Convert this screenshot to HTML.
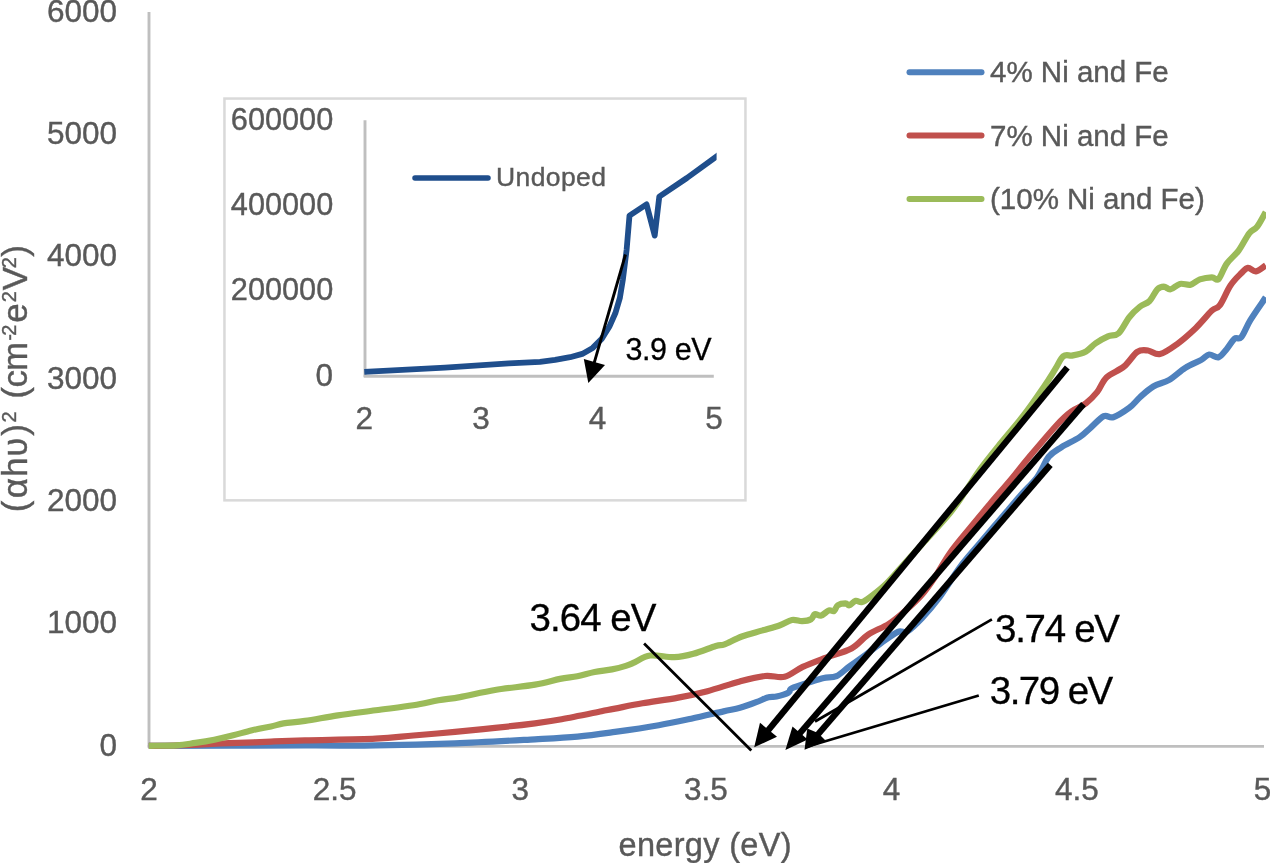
<!DOCTYPE html>
<html><head><meta charset="utf-8"><style>
html,body{margin:0;padding:0;background:#fff;}
svg{display:block;will-change:transform;}
text{font-family:"Liberation Sans", sans-serif;}
.tg text{stroke:#595959;stroke-width:0.4;}
.tb text{stroke:#000;stroke-width:0.3;}
</style></head><body>
<svg width="1270" height="863" viewBox="0 0 1270 863">
<defs>
<clipPath id="cp"><rect x="146" y="0" width="1120" height="750"/></clipPath>
<clipPath id="icp"><rect x="364" y="110" width="352.6" height="270"/></clipPath>
</defs>
<rect width="1270" height="863" fill="#fff"/>
<!-- axes -->
<line x1="149" y1="12" x2="149" y2="747.5" stroke="#bfbfbf" stroke-width="2.9"/>
<line x1="147.7" y1="746.4" x2="1264" y2="746.4" stroke="#bfbfbf" stroke-width="2.9"/>
<g class="tg" font-size="31.5" fill="#595959"><text x="117" y="755.8" text-anchor="end">0</text><text x="117" y="633.4" text-anchor="end">1000</text><text x="117" y="511.1" text-anchor="end">2000</text><text x="117" y="388.7" text-anchor="end">3000</text><text x="117" y="266.4" text-anchor="end">4000</text><text x="117" y="144.0" text-anchor="end">5000</text><text x="117" y="21.6" text-anchor="end">6000</text><text x="149.0" y="800" text-anchor="middle">2</text><text x="334.6" y="800" text-anchor="middle">2.5</text><text x="520.2" y="800" text-anchor="middle">3</text><text x="705.8" y="800" text-anchor="middle">3.5</text><text x="891.4" y="800" text-anchor="middle">4</text><text x="1077.0" y="800" text-anchor="middle">4.5</text><text x="1262.6" y="800" text-anchor="middle">5</text>
<text x="618.5" y="856" font-size="32.5" textLength="173" lengthAdjust="spacing">energy (eV)</text>
</g>
<!-- y title -->
<g class="tg" transform="translate(27.2,0) rotate(-90)" fill="#595959" text-anchor="middle"><text x="-506.3" y="0" font-size="35">(</text><text x="-488.1" y="0" font-size="35">α</text><text x="-467.2" y="0" font-size="35">h</text><text x="-447.0" y="0" font-size="35">ʋ</text><text x="-429.8" y="0" font-size="35">)</text><text x="-416.9" y="-11.6" font-size="20">2</text><text x="-392.8" y="0" font-size="35">(</text><text x="-378.7" y="0" font-size="35">c</text><text x="-356.4" y="0" font-size="35">m</text><text x="-337.5" y="-11.6" font-size="20">-</text><text x="-330.3" y="-11.6" font-size="20">2</text><text x="-313.0" y="0" font-size="35">e</text><text x="-296.8" y="-11.6" font-size="20">2</text><text x="-278.6" y="0" font-size="35">V</text><text x="-262.6" y="-11.6" font-size="20">2</text><text x="-250.8" y="0" font-size="35">)</text></g>
<!-- legend -->
<g stroke-width="6" stroke-linecap="round">
<line x1="909.5" y1="72.3" x2="981.5" y2="72.3" stroke="#4f81bd"/>
<line x1="909.5" y1="135.6" x2="981.5" y2="135.6" stroke="#c0504d"/>
<line x1="909.5" y1="199" x2="981.5" y2="199" stroke="#9bbb59"/>
</g>
<g class="tg" font-size="29.5" fill="#595959">
<text x="990" y="82.4">4% Ni and Fe</text>
<text x="990" y="145.6">7% Ni and Fe</text>
<text x="990" y="209">(10% Ni and Fe)</text>
</g>
<!-- curves -->
<g clip-path="url(#cp)" fill="none" stroke-width="6.2" stroke-linejoin="round">
<path d="M148.8,745.8 C174.8,745.8 267.2,745.6 305.0,745.5 C342.8,745.4 350.6,745.8 375.6,745.4 C400.6,745.0 428.4,744.3 455.0,743.3 C481.6,742.3 514.6,740.4 535.0,739.3 C555.4,738.2 564.3,737.8 577.6,736.6 C590.9,735.4 601.5,733.8 615.0,731.9 C628.5,730.0 646.0,727.4 658.7,725.2 C671.4,723.0 680.4,721.0 691.2,718.7 C702.0,716.4 715.5,713.2 723.6,711.4 C731.7,709.6 734.6,709.3 740.0,707.8 C745.4,706.3 751.5,704.0 756.2,702.2 C760.9,700.5 765.0,698.2 768.4,697.3 C771.8,696.3 773.1,697.3 776.5,696.5 C779.9,695.7 786.1,693.8 788.7,692.4 C791.3,691.0 788.2,690.0 791.9,688.2 C795.6,686.4 805.7,683.5 811.0,681.8 C816.3,680.1 819.5,679.0 823.8,678.0 C828.0,677.0 832.2,678.0 836.5,676.1 C840.8,674.2 845.0,669.6 849.3,666.5 C853.5,663.4 856.7,661.5 862.0,657.6 C867.3,653.7 875.2,647.3 881.2,643.0 C887.2,638.7 893.6,633.7 897.9,631.8 C902.2,629.9 903.2,633.8 907.2,631.5 C911.2,629.2 916.7,623.6 922.0,618.0 C927.3,612.4 932.7,606.5 939.0,598.0 C945.3,589.5 953.2,576.2 960.0,567.0 C966.8,557.8 973.3,550.9 980.0,543.0 C986.7,535.1 993.3,527.3 1000.0,519.5 C1006.7,511.7 1013.8,503.1 1020.0,496.0 C1026.2,488.9 1032.5,483.5 1037.3,477.0 C1042.1,470.5 1044.7,461.8 1048.7,456.8 C1052.8,451.8 1056.5,450.4 1061.6,447.1 C1066.7,443.9 1074.6,440.6 1079.5,437.3 C1084.4,434.1 1086.8,431.1 1090.8,427.6 C1094.8,424.1 1100.0,417.9 1103.8,416.2 C1107.5,414.5 1109.0,418.6 1113.3,417.2 C1117.5,415.8 1124.8,411.1 1129.3,407.8 C1133.8,404.5 1136.0,400.8 1140.0,397.2 C1144.0,393.6 1148.4,389.4 1153.3,386.5 C1158.2,383.6 1164.0,383.0 1169.3,379.9 C1174.6,376.8 1180.0,371.2 1185.3,367.9 C1190.6,364.6 1197.3,362.1 1201.3,359.9 C1205.3,357.7 1206.3,354.9 1209.2,354.5 C1212.1,354.1 1215.7,358.1 1218.6,357.2 C1221.5,356.3 1223.9,352.3 1226.6,349.2 C1229.3,346.1 1232.2,340.6 1234.6,338.6 C1237.0,336.6 1238.5,340.3 1241.2,337.2 C1243.9,334.1 1246.4,326.5 1250.5,319.9 C1254.6,313.2 1263.2,301.1 1265.7,297.3" stroke="#4f81bd"/>
<path d="M148.8,745.8 C153.3,745.8 164.0,745.9 176.0,745.5 C188.0,745.1 209.0,744.0 220.6,743.5 C232.2,743.0 237.4,742.9 245.8,742.6 C254.2,742.3 261.1,742.0 271.0,741.6 C280.9,741.2 287.6,740.9 305.0,740.4 C322.4,739.9 357.5,739.5 375.6,738.7 C393.7,737.9 400.2,736.6 413.4,735.5 C426.6,734.4 441.4,733.2 455.0,731.9 C468.6,730.6 481.7,729.3 495.0,727.9 C508.3,726.5 523.9,724.7 535.0,723.3 C546.1,721.9 550.5,721.3 561.6,719.3 C572.7,717.3 592.6,713.1 601.5,711.3 C610.4,709.5 608.2,709.9 615.0,708.6 C621.8,707.3 632.0,705.1 642.5,703.3 C653.0,701.5 667.4,699.6 678.2,697.6 C689.0,695.6 697.1,693.9 707.4,691.2 C717.7,688.5 730.3,683.9 739.9,681.4 C749.5,678.9 757.5,676.8 765.0,676.0 C772.5,675.2 778.3,678.2 784.6,676.7 C790.9,675.2 795.9,670.0 802.7,666.9 C809.5,663.8 817.1,661.0 825.2,657.9 C833.3,654.8 844.3,652.4 851.5,648.5 C858.7,644.6 862.0,638.7 868.2,634.6 C874.4,630.5 882.5,627.9 888.6,624.0 C894.7,620.1 899.5,615.8 905.0,611.0 C910.5,606.2 916.7,600.7 921.7,595.0 C926.7,589.3 930.3,584.0 935.0,577.0 C939.7,570.0 944.2,561.2 950.0,553.0 C955.8,544.8 963.3,536.2 970.0,528.0 C976.7,519.8 983.1,512.2 990.0,504.0 C996.9,495.8 1004.9,486.8 1011.4,479.0 C1017.9,471.2 1021.6,466.0 1029.2,457.0 C1036.8,448.0 1049.8,432.6 1056.8,425.0 C1063.8,417.4 1066.5,415.1 1071.4,411.5 C1076.3,407.9 1081.7,406.6 1086.0,403.3 C1090.3,400.0 1093.8,396.2 1097.3,391.9 C1100.8,387.5 1102.2,381.4 1106.7,377.2 C1111.2,373.0 1118.9,370.7 1124.0,366.5 C1129.1,362.3 1133.3,354.6 1137.3,351.9 C1141.3,349.2 1144.2,350.1 1148.0,350.5 C1151.8,350.9 1155.1,355.1 1160.0,354.0 C1164.9,352.9 1171.3,348.2 1177.3,343.9 C1183.3,339.5 1190.1,333.4 1195.9,327.9 C1201.7,322.3 1207.9,314.4 1211.9,310.6 C1215.9,306.8 1216.8,309.4 1219.9,305.2 C1223.0,301.0 1227.0,290.6 1230.6,285.3 C1234.1,280.0 1238.3,276.2 1241.2,273.3 C1244.1,270.4 1245.5,268.2 1247.9,267.9 C1250.4,267.6 1252.9,271.8 1255.9,271.4 C1258.9,271.0 1264.1,266.3 1265.7,265.3" stroke="#c0504d"/>
<path d="M148.8,745.8 C153.4,745.7 168.7,745.9 176.5,745.4 C184.3,744.9 189.1,743.8 195.4,742.9 C201.7,742.0 208.0,741.0 214.3,739.7 C220.6,738.4 226.9,736.9 233.2,735.3 C239.5,733.7 245.8,731.8 252.1,730.3 C258.4,728.8 265.8,727.6 271.0,726.5 C276.2,725.4 277.8,724.3 283.5,723.4 C289.2,722.5 295.9,722.2 305.0,720.9 C314.1,719.6 326.0,717.2 337.8,715.4 C349.6,713.6 363.0,712.0 375.6,710.3 C388.2,708.6 402.9,707.0 413.4,705.3 C423.9,703.6 430.7,701.7 438.5,700.3 C446.3,698.9 450.6,698.8 460.0,697.1 C469.4,695.4 482.5,692.1 495.0,690.0 C507.5,687.9 524.2,686.5 535.0,684.6 C545.8,682.8 553.0,680.3 560.0,678.9 C567.0,677.5 571.5,677.4 577.3,676.3 C583.1,675.1 588.8,673.1 594.6,672.0 C600.4,670.9 606.8,670.4 612.0,669.4 C617.2,668.4 622.0,667.1 625.8,665.9 C629.5,664.7 630.5,664.1 634.5,662.4 C638.5,660.7 643.5,656.4 650.1,655.5 C656.7,654.6 667.1,657.5 674.3,657.2 C681.5,656.9 686.5,655.7 693.4,653.8 C700.3,651.9 710.7,647.6 715.9,646.0 C721.1,644.4 720.3,645.9 724.6,644.3 C728.9,642.7 735.5,638.8 741.9,636.5 C748.2,634.2 756.4,632.3 762.7,630.4 C769.1,628.5 775.1,626.9 780.0,625.2 C784.9,623.5 788.2,620.7 791.9,620.0 C795.6,619.3 798.9,621.3 802.1,621.2 C805.3,621.1 808.9,620.5 811.0,619.3 C813.1,618.1 813.1,614.8 814.8,614.2 C816.5,613.6 818.9,616.1 821.2,615.5 C823.6,614.9 826.8,611.1 828.9,610.4 C831.0,609.6 832.5,611.9 834.0,611.0 C835.5,610.1 835.9,606.6 837.8,605.3 C839.7,604.0 843.6,603.4 845.5,603.4 C847.4,603.4 847.6,605.7 849.3,605.3 C851.0,604.9 853.6,601.3 855.7,600.8 C857.8,600.3 859.5,602.8 862.0,602.1 C864.5,601.4 867.0,599.4 871.0,596.4 C875.0,593.4 880.3,589.6 886.0,584.0 C891.7,578.4 898.5,570.2 905.0,563.0 C911.5,555.8 917.5,549.3 925.0,541.0 C932.5,532.7 943.3,521.2 950.0,513.0 C956.7,504.8 960.0,499.2 965.0,492.0 C970.0,484.8 974.2,477.5 980.0,469.5 C985.8,461.5 992.6,453.2 1000.0,444.0 C1007.4,434.8 1017.0,424.0 1024.3,414.5 C1031.6,405.0 1038.6,394.6 1043.8,387.0 C1049.0,379.4 1052.0,374.3 1055.2,369.2 C1058.5,364.1 1060.3,358.5 1063.3,356.2 C1066.3,353.9 1069.2,356.2 1073.0,355.4 C1076.8,354.6 1082.2,353.4 1086.0,351.4 C1089.8,349.4 1092.0,345.7 1095.7,343.2 C1099.4,340.7 1104.2,338.1 1108.0,336.4 C1111.8,334.7 1115.2,336.4 1118.7,333.2 C1122.2,330.0 1125.8,321.6 1129.3,317.2 C1132.8,312.8 1136.7,309.2 1140.0,306.6 C1143.3,304.0 1146.4,304.2 1149.3,301.3 C1152.2,298.4 1154.9,291.8 1157.3,289.3 C1159.7,286.9 1161.7,286.6 1163.9,286.6 C1166.1,286.6 1167.9,289.8 1170.6,289.3 C1173.3,288.9 1176.6,284.7 1179.9,283.9 C1183.2,283.1 1187.3,285.4 1190.6,284.7 C1193.9,283.9 1196.4,280.6 1199.9,279.4 C1203.5,278.2 1208.8,277.4 1211.9,277.3 C1215.0,277.2 1216.1,281.3 1218.6,279.1 C1221.0,276.9 1223.3,268.6 1226.6,263.9 C1229.9,259.1 1234.8,255.7 1238.6,250.6 C1242.4,245.5 1246.1,237.3 1249.2,233.3 C1252.3,229.3 1254.5,230.2 1257.2,226.6 C1260.0,223.0 1264.3,214.4 1265.7,212.0" stroke="#9bbb59"/>
</g>
<!-- inset -->
<rect x="224.45" y="98.55" width="521" height="401.8" fill="#fff" stroke="#d9d9d9" stroke-width="2.5"/>
<line x1="365" y1="120.2" x2="365" y2="377" stroke="#bfbfbf" stroke-width="2.9"/>
<line x1="363.7" y1="376.3" x2="713.8" y2="376.3" stroke="#bfbfbf" stroke-width="2.9"/>
<g class="tg" font-size="31.5" fill="#595959"><text x="333" y="385.6" text-anchor="end">0</text><text x="333.3" y="300.4" text-anchor="end" textLength="102.5" lengthAdjust="spacingAndGlyphs">200000</text><text x="333.3" y="215.2" text-anchor="end" textLength="102.5" lengthAdjust="spacingAndGlyphs">400000</text><text x="333.3" y="130.0" text-anchor="end" textLength="102.5" lengthAdjust="spacingAndGlyphs">600000</text><text x="364.3" y="429.3" text-anchor="middle">2</text><text x="480.9" y="429.3" text-anchor="middle">3</text><text x="597.5" y="429.3" text-anchor="middle">4</text><text x="714.1" y="429.3" text-anchor="middle">5</text></g>
<line x1="415" y1="178.1" x2="488" y2="178.1" stroke="#1f4e8c" stroke-width="5.5" stroke-linecap="round"/>
<text style="stroke:#595959;stroke-width:0.4" x="496" y="186.4" font-size="26.5" textLength="110" lengthAdjust="spacing" fill="#595959">Undoped</text>
<g clip-path="url(#icp)"><polyline points="364.3,371.9 445.0,367.6 508.8,363.4 540.0,361.8 555.1,359.9 570.1,357.2 582.2,353.9 592.7,347.9 601.7,338.9 609.3,326.8 615.3,313.3 619.8,298.2 622.8,280.1 625.1,262.0 626.6,250.0 629.5,215.6 646.5,204.3 654.7,235.6 659.3,196.7 686.9,178.0 720.0,154.0" fill="none" stroke="#1f4e8c" stroke-width="5.8" stroke-linejoin="round"/></g>
<!-- inset arrow -->
<line x1="625.5" y1="254.5" x2="593.9" y2="363.9" stroke="#000" stroke-width="2.9"/><polygon points="588.3,383.1 605.0,365.0 583.8,358.9" fill="#000"/>
<text style="stroke:#000;stroke-width:0.3" x="625.5" y="360.4" font-size="30.5" textLength="86" lengthAdjust="spacing" fill="#000">3.9 eV</text>
<!-- main arrows -->
<line x1="1067.3" y1="367.6" x2="767.2" y2="731.4" stroke="#000" stroke-width="6.3"/><polygon points="754.2,747.2 777.0,736.8 760.0,722.8" fill="#000"/>
<line x1="1083.5" y1="404.1" x2="798.8" y2="734.5" stroke="#000" stroke-width="6.3"/><polygon points="785.4,750.0 807.7,739.5 792.5,726.4" fill="#000"/>
<line x1="1050.3" y1="464.9" x2="814" y2="739" stroke="#000" stroke-width="6.3"/>
<polygon points="804.5,749.7 807.3,728.5 818,733 826,741" fill="#000"/>
<line x1="644.1" y1="643.4" x2="751.3" y2="750.4" stroke="#000" stroke-width="2.8"/>
<line x1="991.9" y1="619.4" x2="815" y2="721.5" stroke="#000" stroke-width="2.8"/>
<line x1="978.8" y1="695.5" x2="806" y2="747" stroke="#000" stroke-width="2.8"/>
<g class="tb" font-size="38.5" fill="#000">
<text x="529.5" y="630.9" textLength="127" lengthAdjust="spacing">3.64 eV</text>
<text x="995" y="642.2" textLength="125" lengthAdjust="spacing">3.74 eV</text>
<text x="989.8" y="703.9" textLength="123.5" lengthAdjust="spacing">3.79 eV</text>
</g>
</svg>
</body></html>
